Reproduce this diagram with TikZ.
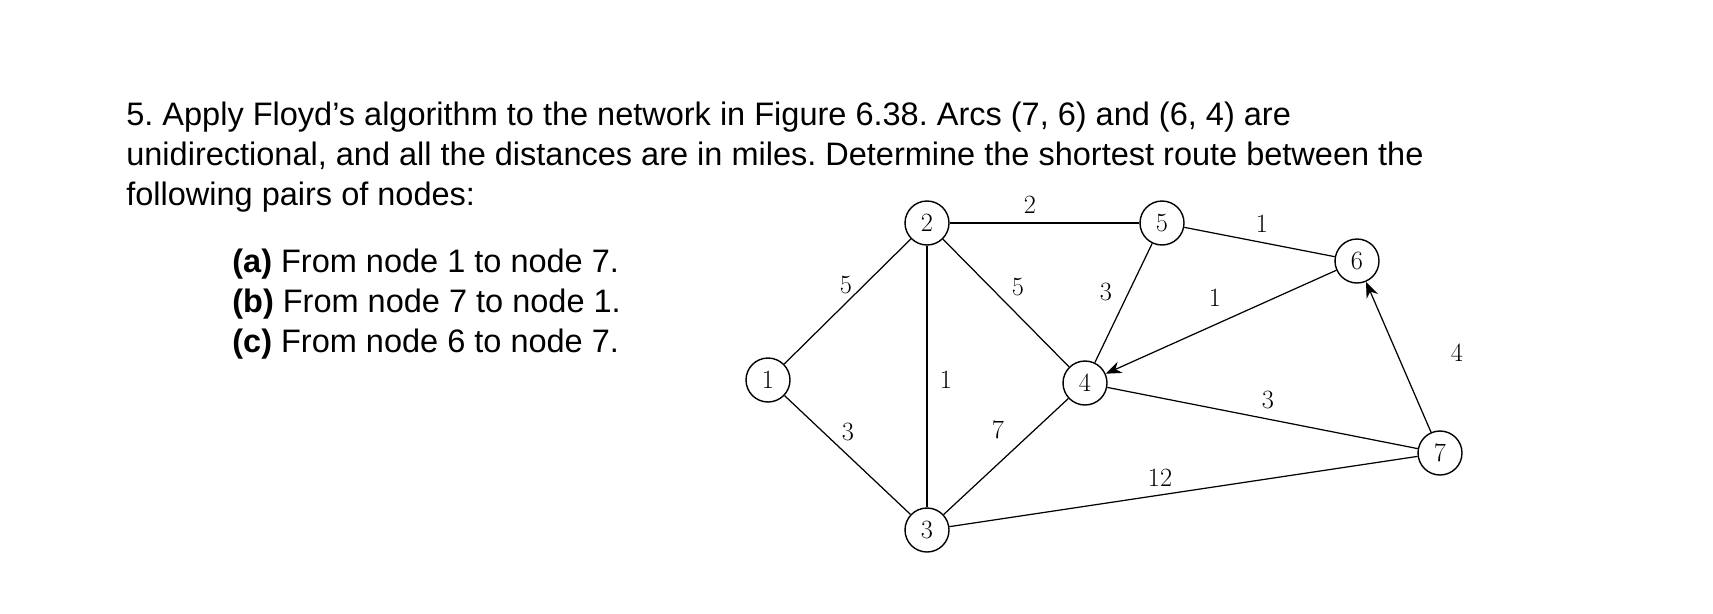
\documentclass[tikz,border=0pt]{standalone}
\usepackage{fontspec}
\newfontfamily\sans{Liberation Sans}
\usetikzlibrary{arrows.meta}
\begin{document}
\frenchspacing
\begin{tikzpicture}[x=0.02cm,y=-0.02cm,
  vtx/.style={circle,draw,line width=0.8pt,minimum size=0.88cm,inner sep=0pt,font=\fontsize{15}{15}\selectfont},
  edge/.style={line width=0.7pt},
  arc/.style={line width=0.7pt,-{Stealth[length=9pt,width=7pt]}},
  lbl/.style={font=\fontsize{15}{15}\selectfont},
  txt/.style={anchor=base west,inner sep=0pt,font=\sans\fontsize{18.5}{18.5}\selectfont}]
\useasboundingbox (0,0) rectangle (1713,613);
\node[txt] (t1) at (126,125) {5. Apply Floyd’s algorithm to the network in Figure 6.38. Arcs (7, 6) and (6, 4) are};
\node[txt] (t2) at (126,165) {unidirectional, and all the distances are in miles. Determine the shortest route between the};
\node[txt] (t3) at (126,205) {following pairs of nodes:};
\node[txt] (qa) at (232,272) {\textbf{(a)} From node 1 to node 7.};
\node[txt] (qb) at (232,312) {\textbf{(b)} From node 7 to node 1.};
\node[txt] (qc) at (232,352) {\textbf{(c)} From node 6 to node 7.};
\node[vtx] (n1) at (768,380) {1};
\node[vtx] (n2) at (927,223) {2};
\node[vtx] (n3) at (927,530) {3};
\node[vtx] (n4) at (1085,383) {4};
\node[vtx] (n5) at (1162,223) {5};
\node[vtx] (n6) at (1357,261) {6};
\node[vtx] (n7) at (1440,453) {7};
\draw[edge] (n1) -- (n2);
\draw[edge] (n1) -- (n3);
\draw[edge] (n2) -- (n3);
\draw[edge] (n2) -- (n5);
\draw[edge] (n2) -- (n4);
\draw[edge] (n3) -- (n4);
\draw[edge] (n5) -- (n4);
\draw[edge] (n5) -- (n6);
\draw[edge] (n4) -- (n7);
\draw[edge] (n3) -- (n7);
\draw[arc] (n6) -- (n4);
\draw[arc] (n7) -- (n6);
\node[lbl] (l1) at (1030,205) {2};
\node[lbl] (l2) at (1262,224) {1};
\node[lbl] (l3) at (846,285) {5};
\node[lbl] (l4) at (1018,287) {5};
\node[lbl] (l5) at (1106,292) {3};
\node[lbl] (l6) at (1215,298) {1};
\node[lbl] (l7) at (1457,353) {4};
\node[lbl] (l8) at (946,380) {1};
\node[lbl] (l9) at (848,432) {3};
\node[lbl] (l10) at (998,430) {7};
\node[lbl] (l11) at (1268,400) {3};
\node[lbl] (l12) at (1160,478) {12};
\end{tikzpicture}
\end{document}
